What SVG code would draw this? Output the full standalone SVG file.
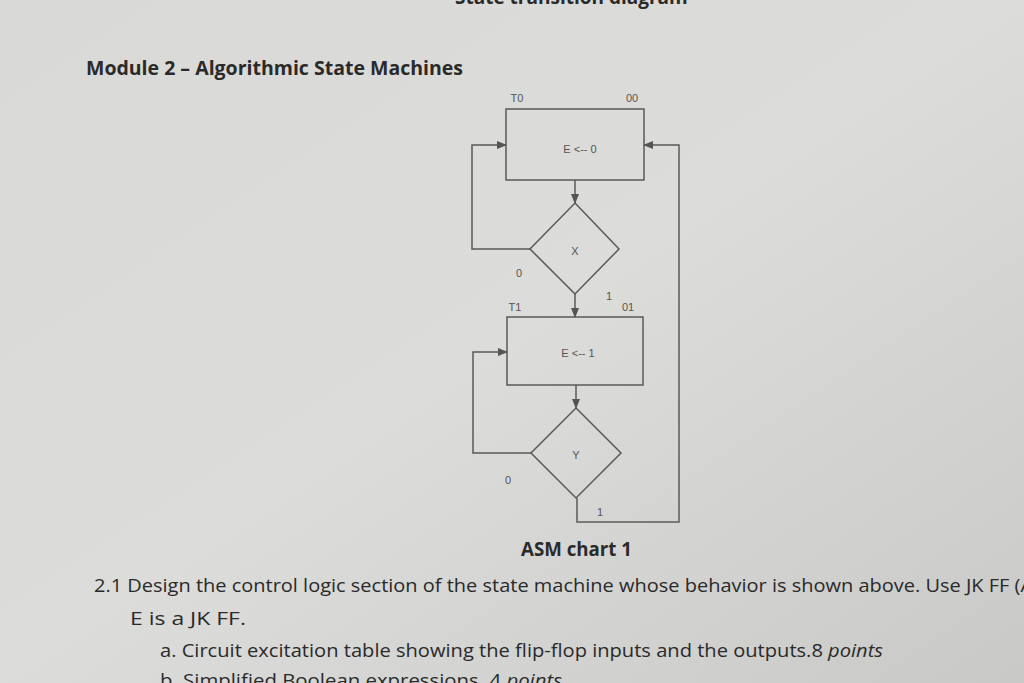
<svg xmlns="http://www.w3.org/2000/svg" width="1024" height="683" viewBox="0 0 1024 683">
<defs>
<linearGradient id="bg" x1="0" y1="0" x2="1" y2="1"><stop offset="0" stop-color="#d9d9d7"/><stop offset="0.5" stop-color="#dcdcda"/><stop offset="1" stop-color="#c9c9c7"/></linearGradient>
<marker id="ah" viewBox="0 0 10 10" refX="9" refY="5" markerWidth="10" markerHeight="10" orient="auto" markerUnits="userSpaceOnUse"><path d="M0,1 L10,5 L0,9 z" fill="#555"/></marker>
<style>
.sh{fill:none;stroke:#5a5a5a;stroke-width:1.5}
.ln{fill:none;stroke:#5a5a5a;stroke-width:1.5;marker-end:url(#ah)}
.sm{font-family:"Liberation Sans",Arial,sans-serif;font-size:11px;fill:#555}
.pg{font-family:"Open Sans","Liberation Sans",sans-serif;font-size:19px;fill:#2a2a2a}
.b{font-weight:bold}
</style>
</defs>
<rect width="1024" height="683" fill="url(#bg)"/>
<text x="455" y="4" class="pg b" fill="#444">State transition diagram</text>
<text x="86" y="75" class="pg b" textLength="377" lengthAdjust="spacingAndGlyphs">Module 2 – Algorithmic State Machines</text>
<g id="connectors">
<path class="ln" d="M575,180 V203"/>
<path class="ln" d="M530,249 H472 V145 H506"/>
<path class="ln" d="M575,294 V317"/>
<path class="ln" d="M576,385 V408"/>
<path class="ln" d="M531,453 H473 V352 H507"/>
<path class="ln" d="M577,498 V522 H679 V145 H644"/>
</g>
<g id="T0"><rect class="sh" x="506" y="109" width="138" height="71"/><text class="sm" x="517" y="102" text-anchor="middle">T0</text><text class="sm" x="632" y="102" text-anchor="middle">00</text><text class="sm" x="580" y="153" text-anchor="middle">E &lt;-- 0</text></g>
<g id="X"><path class="sh" d="M575,203 L619,249 L575,294 L530,249 Z"/><text class="sm" x="575" y="255" text-anchor="middle">X</text><text class="sm" x="519" y="277" text-anchor="middle">0</text><text class="sm" x="609" y="300" text-anchor="middle">1</text></g>
<g id="T1"><rect class="sh" x="507" y="317" width="136" height="68"/><text class="sm" x="515" y="311" text-anchor="middle">T1</text><text class="sm" x="628" y="311" text-anchor="middle">01</text><text class="sm" x="578" y="357" text-anchor="middle">E &lt;-- 1</text></g>
<g id="Y"><path class="sh" d="M576,408 L621,453 L576,498 L531,453 Z"/><text class="sm" x="576" y="459" text-anchor="middle">Y</text><text class="sm" x="508" y="484" text-anchor="middle">0</text><text class="sm" x="600" y="516" text-anchor="middle">1</text></g>
<text x="521" y="556" class="pg b" textLength="111" lengthAdjust="spacingAndGlyphs">ASM chart 1</text>
<text x="94" y="592" class="pg" textLength="945" lengthAdjust="spacingAndGlyphs">2.1 Design the control logic section of the state machine whose behavior is shown above. Use JK FF (A)</text>
<text x="130" y="625" class="pg" textLength="116" lengthAdjust="spacingAndGlyphs">E is a JK FF.</text>
<text x="160" y="657" class="pg" textLength="723" lengthAdjust="spacingAndGlyphs">a. Circuit excitation table showing the flip-flop inputs and the outputs.8 <tspan font-style="italic">points</tspan></text>
<text x="160" y="687" class="pg" textLength="402" lengthAdjust="spacingAndGlyphs">b. Simplified Boolean expressions. 4 <tspan font-style="italic">points</tspan></text>
</svg>
